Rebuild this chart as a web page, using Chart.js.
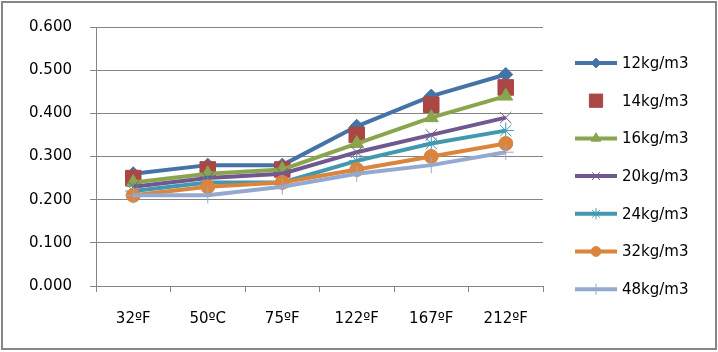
<!DOCTYPE html>
<html>
<head>
<meta charset="utf-8">
<script src="https://cdn.jsdelivr.net/npm/chart.js@4/dist/chart.umd.min.js"></script>
<style>
  html, body { margin: 0; padding: 0; background: #fff; }
  #wrap { width: 718px; height: 352px; }
</style>
</head>
<body>
<div id="wrap"><canvas id="myChart" width="718" height="352"></canvas></div>
<script>
const labels = ['32ºF', '50ºC', '75ºF', '122ºF', '167ºF', '212ºF'];

const kg12 = [0.26, 0.28, 0.28, 0.37, 0.44, 0.49];
const kg14 = [0.25, 0.27, 0.27, 0.35, 0.42, 0.46];
const kg16 = [0.24, 0.26, 0.27, 0.33, 0.39, 0.44];
const kg20 = [0.23, 0.25, 0.26, 0.31, 0.35, 0.39];
const kg24 = [0.22, 0.24, 0.24, 0.29, 0.33, 0.36];
const kg32 = [0.21, 0.23, 0.24, 0.27, 0.30, 0.33];
const kg48 = [0.21, 0.21, 0.23, 0.26, 0.28, 0.31];

const gridGray = '#868686';
const font = { family: 'DejaVu Sans', size: 15 };

function series(label, values, color, style, radius, showLine) {
  return {
    label: label,
    data: values,
    borderColor: color,
    backgroundColor: color,
    pointStyle: style,
    pointRadius: radius,
    pointHoverRadius: radius,
    pointBorderColor: color,
    pointBackgroundColor: color,
    pointBorderWidth: 1,
    borderWidth: 4,
    showLine: showLine,
    tension: 0
  };
}

const datasets = [
  series('12kg/m3', kg12, '#4572A7', 'rectRot', 7, true),
  series('14kg/m3', kg14, '#AA4643', 'rect', 11, false),
  series('16kg/m3', kg16, '#89A54E', 'triangle', 8, true),
  series('20kg/m3', kg20, '#71588F', 'crossRot', 8, true),
  series('24kg/m3', kg24, '#4198AF', 'star', 8, true),
  series('32kg/m3', kg32, '#DB843D', 'circle', 7, true),
  series('48kg/m3', kg48, '#93A9CF', 'cross', 8, true)
];
// later series drawn on top
datasets.forEach((d, i) => { d.order = datasets.length - i; });

/* legend on the right: line sample + marker + text */
const sideLegend = {
  id: 'sideLegend',
  afterDraw(chart) {
    const ctx = chart.ctx;
    const x0 = chart.chartArea.right + 32;
    const y0 = 63;
    const step = 37.7;
    ctx.save();
    chart.data.datasets.forEach((d, i) => {
      const y = y0 + i * step;
      if (d.showLine !== false) {
        ctx.strokeStyle = d.borderColor;
        ctx.lineWidth = 4;
        ctx.beginPath();
        ctx.moveTo(x0, y);
        ctx.lineTo(x0 + 42, y);
        ctx.stroke();
      }
      ctx.fillStyle = d.pointBackgroundColor;
      ctx.strokeStyle = d.pointBorderColor;
      ctx.lineWidth = 1;
      const r = d.pointStyle === 'rect' ? d.pointRadius * 0.85 : d.pointRadius * 0.7;
      Chart.helpers.drawPoint(ctx, { pointStyle: d.pointStyle, radius: r, borderWidth: 1 }, x0 + 21, y);
      ctx.fillStyle = '#000';
      ctx.font = font.size + 'px ' + font.family;
      ctx.textBaseline = 'middle';
      ctx.textAlign = 'left';
      ctx.fillText(d.label, x0 + 47, y + 1);
    });
    // outer frame
    ctx.strokeStyle = gridGray;
    ctx.lineWidth = 2;
    ctx.strokeRect(2, 2, 714, 347);
    ctx.restore();
  }
};

const config = {
  type: 'line',
  data: { labels: labels, datasets: datasets },
  options: {
    responsive: false,
    animation: false,
    layout: { padding: { left: 0, right: 175, top: 24, bottom: 0 } },
    plugins: {
      legend: { display: false },
      tooltip: { enabled: false }
    },
    scales: {
      x: {
        offset: true,
        grid: { offset: true, drawOnChartArea: false, drawTicks: true, tickLength: 6, color: gridGray },
        border: { display: true, color: gridGray, width: 1 },
        ticks: { color: '#000', font: font, padding: 18, maxRotation: 0 },
        afterFit: s => { s.height = 66; }
      },
      y: {
        min: 0,
        max: 0.6,
        grid: { color: gridGray, tickLength: 6, lineWidth: 1 },
        border: { display: true, color: gridGray, width: 1 },
        ticks: {
          stepSize: 0.1,
          color: '#000',
          font: font,
          padding: 18,
          callback: v => v.toFixed(3)
        },
        afterFit: s => { s.width = 96; }
      }
    }
  },
  plugins: [sideLegend]
};

const myChart = new Chart(document.getElementById('myChart'), config);
</script>
</body>
</html>
